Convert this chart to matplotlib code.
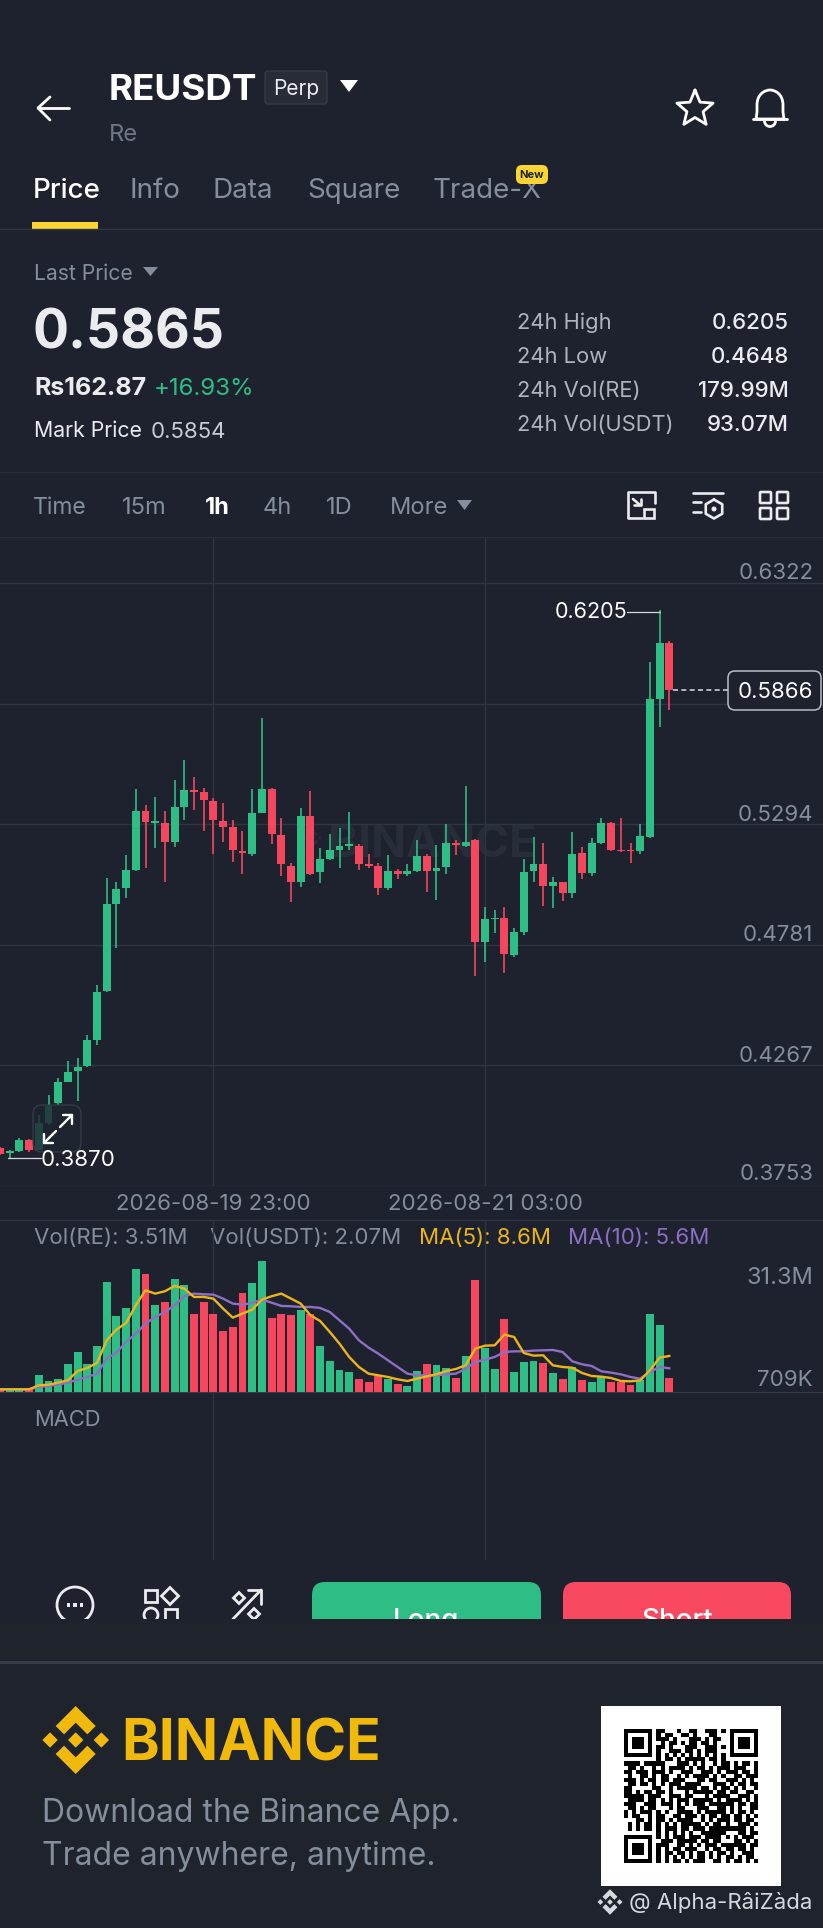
import matplotlib
matplotlib.use("Agg")
import matplotlib.pyplot as plt
from matplotlib.patches import Rectangle, FancyBboxPatch, Polygon, Circle, PathPatch, Arc
from matplotlib.path import Path
import numpy as np

W, H = 823, 1928
BG = "#1E222E"
BG2 = "#1E232C"
GREEN = "#2EBD85"
RED = "#F6465D"
GRAY = "#848E9C"
LINE = "#2F3541"
YELLOW = "#F0B90B"

opens = [.3916,.3895,.3904,.3951,.3907,.4020,.4107,.4198,.4243,.4264,.4377,.4584,.4954,.5024,.5098,.5351,.5300,.5300,.5217,.5368,
         .5439,.5431,.5394,.5307,.5281,.5178,.5166,.5342,.5446,.5248,.5117,.5046,.5328,.5092,.5146,.5185,.5202,.5202,.5125,.5116,
         .5024,.5097,.5082,.5097,.5160,.5095,.5111,.5213,.5202,.5227,.4794,.4891,.4894,.4737,.4837,.5095,.5125,.5031,.5047,.5000,
         .5170,.5085,.5216,.5301,.5185,.5185,.5180,.5241,.5829,.6068]
closes = [.3890,.3902,.3951,.3907,.4020,.4093,.4194,.4238,.4262,.4377,.4580,.4954,.5020,.5098,.5351,.5302,.5307,.5217,.5368,.5439,
          .5431,.5397,.5311,.5284,.5184,.5170,.5342,.5446,.5251,.5123,.5046,.5328,.5081,.5146,.5185,.5202,.5209,.5125,.5116,.5024,
          .5097,.5082,.5097,.5159,.5095,.5107,.5213,.5207,.5220,.4794,.4889,.4896,.4740,.4837,.5092,.5125,.5033,.5047,.5000,.5168,
          .5088,.5216,.5301,.5185,.5178,.5178,.5244,.5826,.6068,.5866]
highs = [.3919,.3907,.3959,.3953,.4055,.4142,.4211,.4285,.4298,.4398,.4611,.5067,.5046,.5163,.5443,.5377,.5411,.5351,.5481,.5568,
         .5495,.5450,.5408,.5385,.5311,.5267,.5443,.5747,.5450,.5319,.5130,.5363,.5437,.5192,.5251,.5277,.5345,.5210,.5168,.5131,
         .5165,.5102,.5125,.5227,.5168,.5206,.5294,.5227,.5457,.5230,.4940,.4929,.4940,.4851,.5145,.5239,.5213,.5068,.5050,.5261,
         .5196,.5234,.5320,.5305,.5320,.5213,.5295,.5987,.6205,.6073]
lows = [.3885,.3870,.3898,.3898,.3905,.4011,.4098,.4194,.4116,.4262,.4354,.4580,.4768,.4980,.5093,.5107,.5194,.5046,.5197,.5311,
        .5356,.5267,.5168,.5217,.5133,.5081,.5159,.5342,.5211,.5072,.4963,.5025,.5077,.5043,.5142,.5107,.5185,.5099,.5107,.4993,
        .5014,.5060,.5075,.5092,.5007,.4972,.5081,.5163,.5196,.4649,.4709,.4832,.4662,.4730,.4822,.5047,.4946,.4936,.4965,.4982,
        .5060,.5075,.5209,.5180,.5176,.5128,.5166,.5234,.5710,.5781]
# volumen en millones
volumes = [.56,.56,.56,.64,3.98,2.63,3.02,6.61,9.63,6.61,10.91,26.35,18.15,19.98,29.45,28.18,20.70,21.57,26.90,25.47,
           18.55,21.57,18.55,14.49,15.52,23.64,26.11,31.3,17.67,18.55,18.39,19.66,18.55,10.91,7.32,5.17,4.86,3.18,2.31,3.82,
           3.18,1.99,1.43,5.01,6.77,6.53,5.73,3.34,8.52,26.83,10.59,5.41,17.35,4.78,7.08,7.32,7.00,4.54,3.18,5.97,
           2.79,2.31,3.58,2.47,2.31,1.59,2.79,18.71,16.08,3.42]
ma5 = [.64,.64,.64,.64,1.59,1.75,2.23,2.79,5.01,5.73,6.93,12.34,14.89,16.48,20.70,24.28,23.48,24.04,25.31,24.68,
       22.69,22.69,22.29,19.90,17.75,18.71,19.66,22.05,22.85,23.48,22.29,21.09,18.31,16.95,14.33,11.54,8.36,5.97,4.38,3.98,
       3.58,3.02,2.63,3.18,3.74,4.22,5.01,5.49,6.37,10.35,11.06,11.14,13.69,13.13,9.31,8.68,8.76,6.37,5.97,5.81,
       4.54,3.82,3.66,3.34,2.63,2.55,2.79,5.17,8.20,8.60]
ma10 = [.64,.64,.64,.64,1.19,1.43,1.75,2.23,2.95,3.58,4.38,7.96,9.39,11.94,13.93,16.32,17.91,19.10,20.70,22.85,
        23.48,23.32,23.24,22.29,21.09,20.86,21.25,22.05,21.33,20.54,20.46,20.30,20.30,20.06,19.10,17.11,15.12,12.34,10.59,9.15,
        7.56,5.97,4.38,3.98,3.98,3.98,4.22,4.38,5.57,7.16,7.72,8.36,9.55,9.71,9.71,9.87,9.95,10.03,9.55,7.32,
        6.61,6.21,4.94,4.62,4.22,3.58,3.18,4.78,5.97,5.65]

price_levels = [0.6322, 0.5808, 0.5294, 0.4781, 0.4267, 0.3753]
price_labels = ["0.6322", "", "0.5294", "0.4781", "0.4267", "0.3753"]
date_pos = [22, 50]
date_labels = ["2026-08-19 23:00", "2026-08-21 03:00"]
stats_names = ["24h High", "24h Low", "24h Vol(RE)", "24h Vol(USDT)"]
stats_values = ["0.6205", "0.4648", "179.99M", "93.07M"]
tabs = ["Price", "Info", "Data", "Square", "Trade-X"]
tabs_x = [33, 130, 213, 307, 433]
frames = ["Time", "15m", "1h", "4h", "1D", "More"]
frames_x = [33, 122, 205, 263, 326, 390]

QR = """
#######.##...#..##..###.#.#######
#.....#.#.##..##.#...##...#.....#
#.###.#.###.#...###.#.##..#.###.#
#.###.#..#.##.#.##.##.#...#.###.#
#.###.#.##.#...###..###.#.#.###.#
#.....#.#..###.##.#.###...#.....#
#######.#.#.#.#.#.#.#.#.#.#######
........#.##.#.#####.##.#........
####.#####...###.#.#..#.##.#.##.#
.##.#..#.#.####.#.##.#.###.###..#
##.###.###.#..###..###.#.###.##.#
.#..##.#.##..#.#.####.#.#..##.###
###.#.##.##.###...##.##..###.#.#.
.##.##.#.#.###.####...###.#.##.##
##.....##..#.#####.##.#.##.#.#..#
##.#.##.##.#...#.#####.##.##..##.
#####.###..###.##...#.####..###.#
.####.##.#.#.###.#####.#.####.#.#
###..###.###.#.#.###.######.##.##
.##.#.##...#.##...###..##.#.#..##
#.#.###.#.#..####.#.#####.#.##.#.
#.##..#.##..##.###.#.##.##.##.#.#
...##.#.##.#.####..#.#.###.##.##.
.#.#.##.#.#.#.#####.#.##.#..###.#
.#.#.##.#.###.##.###.#########.#.
........#.#.#.#.#..######...##.##
#######.#.#.###.###.####.#.#.###.
#.....#..###.#####.##.##...##.#.#
#.###.#.###..##.#.#.###.######.##
#.###.#.#.#.##.###..#.##.##.##.#.
#.###.#.#.##.##.#.##.#.##.#..###.
#.....#.#.#.#.#.#.##.#.#.##.#.##.
#######.#.#.##.#.###..##.#.##.#.#
""".split()

plt.rcParams["font.family"] = ["Inter", "DejaVu Sans"]
fig = plt.figure(figsize=(W / 100, H / 100), dpi=100, facecolor=BG)


def px_axes(y0, y1, z):
    # eje de ancho completo entre dos filas de pixeles
    return fig.add_axes([0, 1 - y1 / H, 1, (y1 - y0) / H], zorder=z)


ui = fig.add_axes([0, 0, 1, 1], zorder=0)
ui.set_xlim(0, W)
ui.set_ylim(H, 0)
ui.axis("off")
top = fig.add_axes([0, 0, 1, 1], zorder=3)
top.set_xlim(0, W)
top.set_ylim(H, 0)
top.axis("off")
top.patch.set_alpha(0)


def txt(x, y, s, size, color="white", ha="left", weight="normal", ax=ui, **kw):
    # va=center queda algo alto con Inter, se baja segun el tamano
    return ax.text(x, y + 0.16 * size, s, fontsize=size, color=color, ha=ha, va="center", fontweight=weight, **kw)


def stroke(xs, ys, color="white", lw=1.7, ax=ui, z=3):
    ax.plot(xs, ys, color=color, lw=lw, solid_capstyle="round", solid_joinstyle="round", zorder=z)


def tri(x0, x1, y0, y1, color):
    ui.add_patch(Polygon([(x0, y0), (x1, y0), ((x0 + x1) / 2, y1)], closed=True, fc=color, ec="none"))


def diamond(cx, cy, r, color, ax=ui, fill=True, lw=1.5, z=3):
    pts = [(cx, cy - r), (cx + r, cy), (cx, cy + r), (cx - r, cy)]
    if fill:
        ax.add_patch(Polygon(pts, closed=True, fc=color, ec="none", zorder=z))
    else:
        ax.add_patch(Polygon(pts, closed=True, fc="none", ec=color, lw=lw, zorder=z))


def logo(cx, cy, s, color, ax=ui, z=3):
    # s = 1 para el logo grande
    k = s / 3
    diamond(cx, cy, 23 * k, color, ax, z=z)
    diamond(cx - 77 * k, cy, 23 * k, color, ax, z=z)
    diamond(cx + 77 * k, cy, 23 * k, color, ax, z=z)
    shape = [(0, -102), (60, -42), (35, -17), (0, -52), (-35, -17), (-60, -42)]
    ax.add_patch(Polygon([(cx + a * k, cy + b * k) for a, b in shape], closed=True, fc=color, ec="none", zorder=z))
    ax.add_patch(Polygon([(cx + a * k, cy - b * k) for a, b in shape], closed=True, fc=color, ec="none", zorder=z))


# --- cabecera ---
stroke([38, 69], [108, 108], lw=2)
stroke([50, 38, 50], [97, 108, 120], lw=2)
txt(109, 86, "REUSDT", 26.5, weight="bold")
ui.add_patch(FancyBboxPatch((265, 71), 62, 33, boxstyle="round,pad=0,rounding_size=3", fc="#272C37", ec="#343A46", lw=1))
txt(296, 87, "Perp", 15, color="#EAECEF", ha="center")
tri(340, 358, 80, 92, "white")
txt(109, 132, "Re", 17, color="#707784")

ang = np.arange(11) * np.pi / 5 - np.pi / 2
rad = np.where(np.arange(11) % 2 == 0, 19, 8.5)
stroke(695 + rad * np.cos(ang), 109 + rad * np.sin(ang), lw=2)
bell = Path([(756, 119), (757, 112), (757, 105), (757, 94), (765, 90), (770, 90), (775, 90), (783, 94), (783, 105), (783, 112), (784, 119), (756, 119)],
            [Path.MOVETO, Path.LINETO, Path.LINETO, Path.CURVE4, Path.CURVE4, Path.CURVE4, Path.CURVE4, Path.CURVE4, Path.CURVE4, Path.LINETO, Path.LINETO, Path.LINETO])
ui.add_patch(PathPatch(bell, fc="none", ec="white", lw=2))
stroke([753, 787], [119, 119], lw=2)
ui.add_patch(Arc((770, 121), 11, 11, theta1=0, theta2=180, ec="white", lw=2))

for i, name in enumerate(tabs):
    txt(tabs_x[i], 188, name, 20, color="white" if i == 0 else GRAY, weight="medium" if i == 0 else "normal")
ui.add_patch(FancyBboxPatch((516, 165), 32, 19, boxstyle="round,pad=0,rounding_size=6", fc="#FCD535", ec="none", zorder=4))
txt(532, 173.5, "New", 8, color="#1E2329", ha="center", weight="bold", zorder=5)
ui.add_patch(Rectangle((32, 222), 66, 7, fc="#FCD535", ec="none"))
ui.axhline(229, color=LINE, lw=1)

txt(34, 272, "Last Price", 15.2, color=GRAY)
tri(143, 158, 267, 276, GRAY)
txt(33, 328, "0.5865", 38.5, color="#EAECEF", weight="bold")
txt(34, 386, "Rs162.87", 18, color="#EAECEF", weight="bold")
txt(154, 386, "+16.93%", 17.3, color=GREEN)
txt(34, 429, "Mark Price", 15.3, color="#EAECEF")
txt(151, 429, "0.5854", 16, color="#C9CDD4")
for i in range(4):
    y = 320 + 34 * i
    txt(517, y, stats_names[i], 15.8, color="#AEB4BC")
    txt(789, y, stats_values[i], 16, color="#EAECEF", ha="right", weight="medium")
ui.axhline(472, color="#272C37", lw=1)

for i, name in enumerate(frames):
    size = 17 if name != "Time" else 16.5
    txt(frames_x[i], 505, name, size, color="white" if name == "1h" else GRAY, weight="bold" if name == "1h" else "normal")
tri(457, 472, 500, 510, GRAY)
ui.axhline(537, color="#272C37", lw=1)

# iconos de la fila de intervalos
lw_i = 1.9
c_i = "#EAECEF"
stroke([655, 655, 628, 628, 642], [503, 492, 492, 518, 518], color=c_i, lw=lw_i)
ui.add_patch(Rectangle((644, 509), 10, 9, fc="none", ec=c_i, lw=lw_i))
stroke([633, 640], [499, 505], color=c_i, lw=lw_i)
stroke([634, 641, 641], [505, 505, 499], color=c_i, lw=lw_i)
stroke([693, 723], [493, 493], color=c_i, lw=lw_i)
stroke([693, 701], [502, 502], color=c_i, lw=lw_i)
stroke([693, 701], [512, 512], color=c_i, lw=lw_i)
a6 = np.arange(7) * np.pi / 3 - np.pi / 2
stroke(714 + 9.5 * np.cos(a6), 509 + 9.5 * np.sin(a6), color=c_i, lw=lw_i)
ui.add_patch(Circle((714, 509), 2.5, fc=c_i, ec="none"))
for x0 in [760, 777]:
    for y0 in [492, 508]:
        ui.add_patch(FancyBboxPatch((x0, y0), 11, 11, boxstyle="round,pad=0,rounding_size=1", fc="none", ec=c_i, lw=lw_i))

# --- grafico de velas ---
ax = px_axes(538, 1186, 1)
ax.patch.set_alpha(0)
xmax = W / 9.7
ax.set_xlim(0, xmax)
ax.set_ylim(0.3753, 0.3753 + 648 * 0.000426)
idx = np.arange(len(opens))
colors = [RED if c < o else GREEN for o, c in zip(opens, closes)]
ax.vlines(idx, lows, highs, colors=colors, lw=1.2, zorder=3)
ax.bar(idx, np.abs(np.array(closes) - np.array(opens)), bottom=np.minimum(opens, closes), width=0.82, color=colors, zorder=3)
ax.set_yticks(price_levels)
ax.set_yticklabels([])
ax.set_xticks(date_pos)
ax.set_xticklabels(date_labels, fontsize=16, color=GRAY)
ax.tick_params(length=0, pad=6)
ax.grid(True, color=LINE, lw=1)
ax.set_axisbelow(True)
for sp in ax.spines.values():
    sp.set_visible(False)
for lv, lb in zip(price_levels, price_labels):
    dy = 9 if lb == "0.3753" else 7
    ax.annotate(lb, (1, lv), xycoords=ax.get_yaxis_transform(), xytext=(-7, dy), textcoords="offset points",
                fontsize=16, color=GRAY, ha="right", va="center", annotation_clip=False)
logo(313, 838, 0.26, "#272D39", ui)
txt(328, 840, "BINANCE", 33, color="#272D39", weight="bold")

# etiquetas sobre el grafico
stroke([627, 660], [612, 612], color="#D5D8DC", lw=0.9, ax=top)
txt(555, 610, "0.6205", 15.5, ax=top)
ax.plot([69.4, 75], [closes[-1], closes[-1]], color="#C9CDD4", lw=1.2, ls=(0, (3, 2)), zorder=4, clip_on=False)
top.add_patch(FancyBboxPatch((728, 671), 93, 39, boxstyle="round,pad=0,rounding_size=7", fc=BG, ec="#B8BCC4", lw=1.1))
txt(775, 689, "0.5866", 16, ax=top, ha="center")
stroke([8, 41], [1158, 1158], color="#D5D8DC", lw=0.9, ax=top)
txt(41, 1157, "0.3870", 16, ax=top)
top.add_patch(FancyBboxPatch((33, 1105), 48, 47, boxstyle="round,pad=0,rounding_size=9", fc="#1E2530", ec="#3A404C", lw=1, alpha=0.8))
stroke([60, 72], [1127, 1115], ax=top, lw=1.7)
stroke([63, 72, 72], [1115, 1115, 1124], ax=top, lw=1.7)
stroke([56, 44], [1131, 1143], ax=top, lw=1.7)
stroke([44, 44, 53], [1134, 1143, 1143], ax=top, lw=1.7)

# --- volumen ---
ui.axhline(1220, color=LINE, lw=1)
vol = px_axes(1220, 1392, 1)
vol.patch.set_alpha(0)
vol.set_xlim(0, xmax)
vol.set_ylim(0, 172 / 4.19)
vol.bar(idx, volumes, width=0.82, color=colors, zorder=3)
vol.plot(idx, ma10, color="#8D6FC5", lw=1.7, zorder=4)
vol.plot(idx, ma5, color="#EDB51A", lw=1.7, zorder=5)
vol.set_xticks(date_pos)
vol.set_xticklabels([])
vol.set_yticks([])
vol.tick_params(length=0)
vol.grid(True, axis="x", color=LINE, lw=1)
vol.set_axisbelow(True)
for name, sp in vol.spines.items():
    sp.set_visible(name == "bottom")
vol.spines["bottom"].set_color("#343A46")
txt(34, 1235, "Vol(RE): 3.51M", 16, color=GRAY)
txt(210, 1235, "Vol(USDT): 2.07M", 16, color=GRAY)
txt(419, 1235, "MA(5): 8.6M", 16, color="#EDB51A")
txt(568, 1235, "MA(10): 5.6M", 16, color="#8D6FC5")
txt(813, 1275, "31.3M", 17, color=GRAY, ha="right")
txt(813, 1377, "709K", 16, color=GRAY, ha="right")
txt(34, 1417, "MACD", 15.8, color=GRAY)
ui.vlines([date_pos[0] * 9.7, date_pos[1] * 9.7], 1392, 1560, color=LINE, lw=1)

# --- botones, cortados por abajo ---
ui.add_patch(Circle((75, 1605), 18, fc="none", ec=c_i, lw=2))
for dx in [-6.5, 0, 6.5]:
    ui.add_patch(Rectangle((75 + dx - 1.8, 1603), 3.6, 4, fc=c_i, ec="none"))
ui.add_patch(Rectangle((145, 1590), 12, 12, fc="none", ec=c_i, lw=2))
diamond(170, 1596, 8.5, c_i, fill=False, lw=2)
ui.add_patch(Circle((151, 1615), 7, fc="none", ec=c_i, lw=2))
ui.add_patch(Rectangle((165, 1609), 12, 14, fc="none", ec=c_i, lw=2))
stroke([233, 261], [1619, 1590], color=c_i, lw=2)
stroke([248, 261, 261], [1590, 1590, 1604], color=c_i, lw=2)
diamond(239, 1598, 5.5, c_i, fill=False, lw=2)
diamond(254, 1614, 5.5, c_i, fill=False, lw=2)
ui.add_patch(FancyBboxPatch((312, 1582), 229, 60, boxstyle="round,pad=0,rounding_size=13", fc=GREEN, ec="none", zorder=3))
ui.add_patch(FancyBboxPatch((563, 1582), 228, 60, boxstyle="round,pad=0,rounding_size=13", fc="#F84960", ec="none", zorder=3))
txt(426, 1618, "Long", 20, ha="center", weight="medium", zorder=4)
txt(677, 1618, "Short", 20, ha="center", weight="medium", zorder=4)
ui.add_patch(Rectangle((0, 1619), W, 42, fc=BG2, ec="none", zorder=5))
ui.add_patch(Rectangle((0, 1660.5), W, 3, fc="#363C48", ec="none", zorder=5))
ui.add_patch(Rectangle((0, 1663), W, H - 1663, fc=BG2, ec="none", zorder=1))

# --- pie ---
logo(75.7, 1740, 1, YELLOW)
txt(121, 1739, "BINANCE", 41, color=YELLOW, weight="bold")
txt(42, 1810, "Download the Binance App.", 23, color=GRAY)
txt(42, 1853, "Trade anywhere, anytime.", 23, color=GRAY)
ui.add_patch(Rectangle((601, 1706), 180, 180, fc="white", ec="none", zorder=2))
qr = np.array([[0.0 if ch == "#" else 1.0 for ch in row.ljust(33, ".")] for row in QR])
ui.imshow(qr, cmap="gray", vmin=0, vmax=1, extent=(624, 757.5, 1863, 1729), aspect="auto", interpolation="nearest", zorder=3)
ui.set_xlim(0, W)
ui.set_ylim(H, 0)
logo(610, 1902, 0.375, "#D5D8DC")
txt(629, 1900, "@ Alpha-RâiZàda", 16, color="#D5D8DC")

fig.savefig("out.png", dpi=100, facecolor=BG)
